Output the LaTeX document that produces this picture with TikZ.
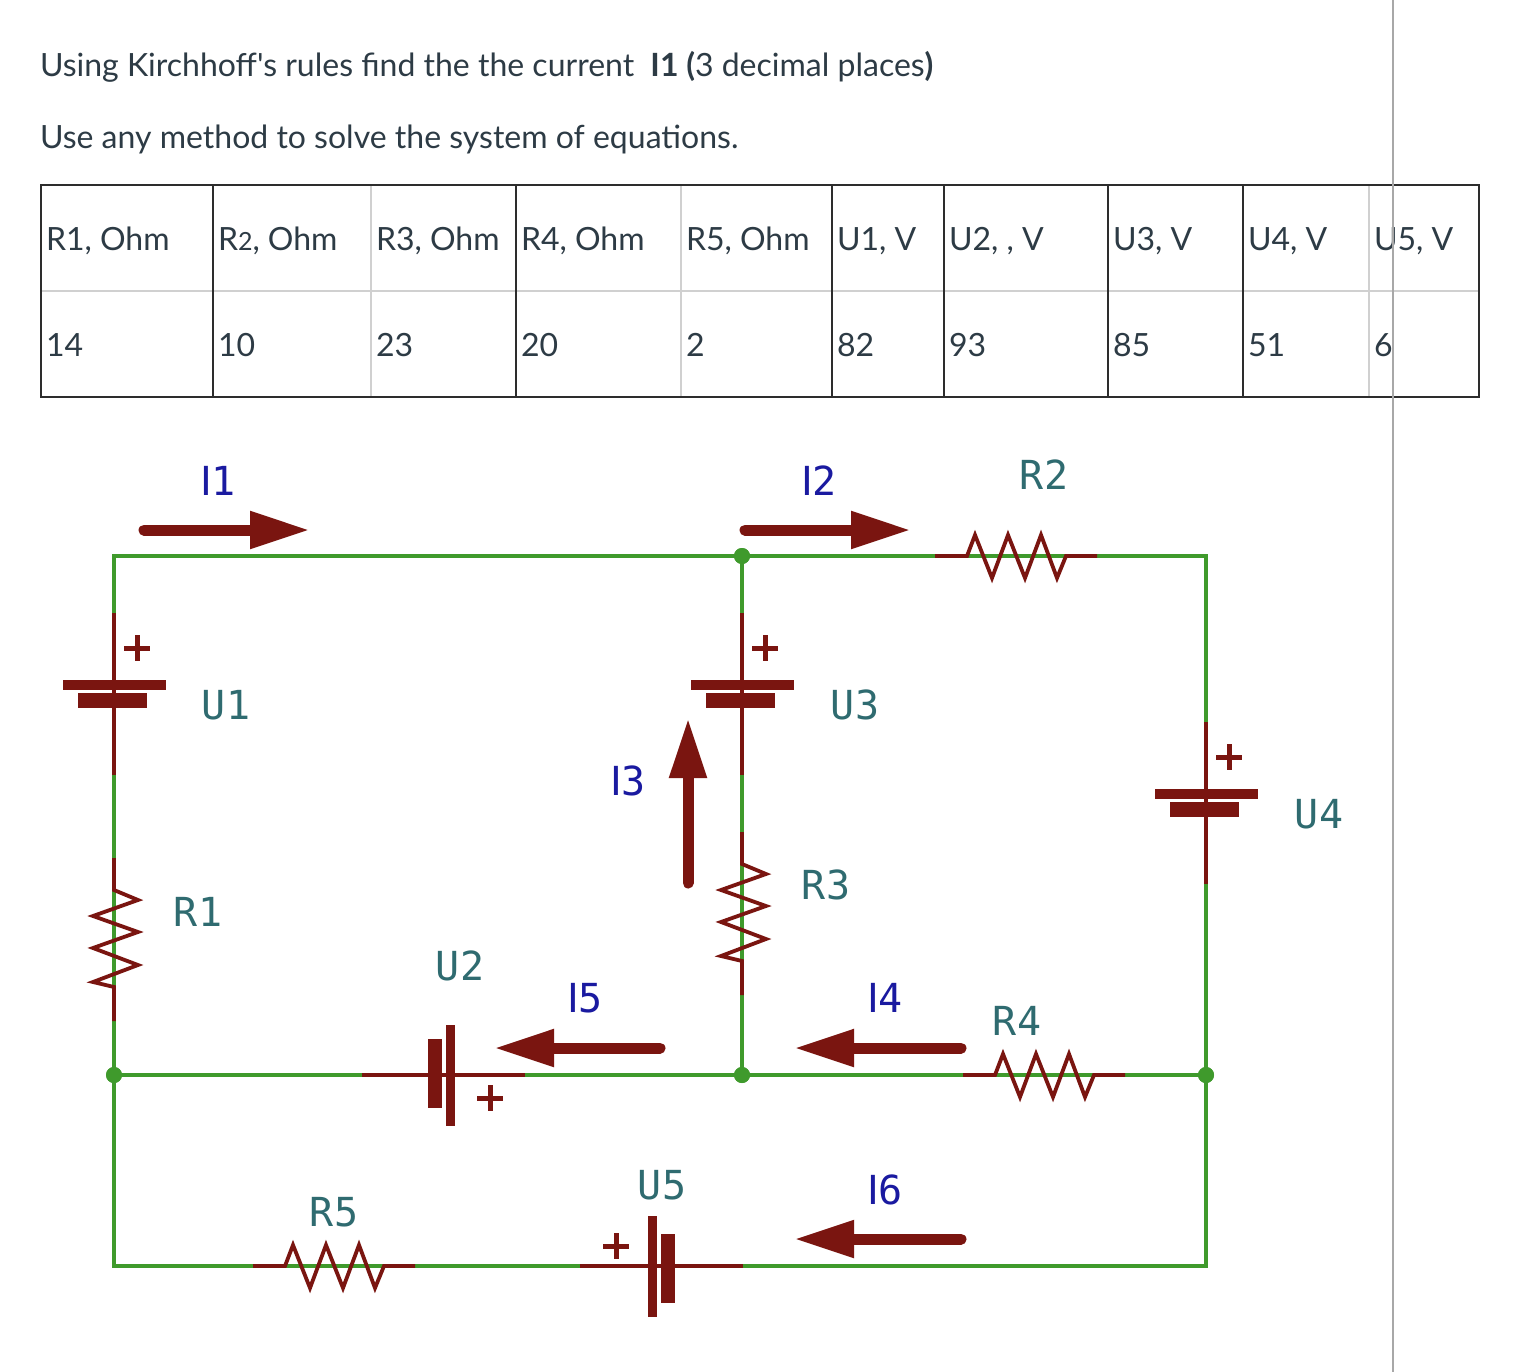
\documentclass[tikz,border=0pt]{standalone}
\usepackage{fontspec}
\setmainfont{Lato}[Ligatures=TeXOff]
\newfontfamily\schemfont{DejaVu Sans Mono}
\newfontfamily\barfont{DejaVu Sans}
\usetikzlibrary{arrows.meta,calc}
\definecolor{wirec}{HTML}{3F9A2C}
\definecolor{partc}{HTML}{7A1510}
\definecolor{tealc}{HTML}{2F6B70}
\definecolor{bluec}{HTML}{1A1AA0}
\definecolor{inkc}{HTML}{2D3B45}
\definecolor{rulec}{HTML}{2D2D2D}
\definecolor{softc}{HTML}{D0D0D0}
\definecolor{guidec}{HTML}{A8A8A8}
\tikzset{
  wire/.style={draw=wirec,line width=3.6pt},
  part/.style={draw=partc,line width=3.8pt,line join=miter},
  plate/.style={fill=partc,draw=none},
  curr/.style={draw=partc,line width=11pt,line cap=round,-{Triangle[length=60pt,width=35pt]}},
  plus/.style={draw=partc,line width=5pt},
  txt/.style={anchor=base west,inner sep=0pt,outer sep=0pt,text=inkc,font=\fontsize{32}{38}\selectfont},
  dot/.style={circle,fill=wirec,draw=none,minimum size=16pt,inner sep=0pt},
  tlabel/.style={text=tealc,font=\schemfont\fontsize{40}{42}\selectfont,inner sep=0pt},
  blabel/.style={text=bluec,font=\schemfont\fontsize{40}{42}\selectfont,inner sep=0pt},
  hard/.style={draw=rulec,line width=2pt},
  soft/.style={draw=softc,line width=2pt},
  pics/vres/.style={code={
    \draw[part] (0,-82)--(0,-50)--(24,-40)--(-21,-24)--(24,-8)--(-21,8)--(24,25)--(-21,42)--(0,47)--(0,81);
  }},
  pics/hres/.style={code={
    \draw[part] (-81,0)--(-49,0)--(-41,-21)--(-24,22)--(-8,-21)--(9,22)--(25,-21)--(41,22)--(50,0)--(81,0);
  }},
  pics/vbat/.style={code={
    \draw[part] (0,-72)--(0,90);
    \fill[plate] (-51,-5) rectangle (52,5);
    \fill[plate] (-36,8) rectangle (33,23);
    \draw[plus] (23,-50)--(23,-24) (10,-37)--(36,-37);
  }},
  pics/hbatr/.style={code={
    \draw[part] (-88,0)--(75,0);
    \fill[plate] (-4,-50) rectangle (5,51);
    \fill[plate] (-22,-36) rectangle (-8,33);
    \draw[plus] (40,10)--(40,36) (27,23)--(53,23);
  }},
  pics/hbatl/.style={code={
    \draw[part] (-72,0)--(91,0);
    \fill[plate] (-4,-50) rectangle (5,51);
    \fill[plate] (9,-32) rectangle (23,37);
    \draw[plus] (-36,-33)--(-36,-7) (-49,-20)--(-23,-20);
  }}
}
\begin{document}
\begin{tikzpicture}[x=1pt,y=-1pt]
\useasboundingbox (0,0) rectangle (1538,1372);
\fill[white] (0,0) rectangle (1538,1372);

% heading
\node[txt] (q1) at (40,77) {Using Kirchhoff's rules find the the current\ \ \textbf{I1 (}3 decimal places\textbf{)}};
\node[txt] (q2) at (40,149) {Use any method to solve the system of equations.};

% table
\draw[soft] (41,291)--(1479,291);
\foreach \x in {371,681,1369} \draw[soft] (\x,185)--(\x,397);
\foreach \x in {213,516,832,944,1108,1243} \draw[hard] (\x,185)--(\x,397);
\draw[hard] (41,185) rectangle (1479,397);
\node[txt] (h1) at (46,251) {R1, Ohm};
\node[txt] (h2) at (218,251) {R{\fontsize{25}{30}\selectfont 2}, Ohm};
\node[txt] (h3) at (376,251) {R3, Ohm};
\node[txt] (h4) at (521,251) {R4, Ohm};
\node[txt] (h5) at (686,251) {R5, Ohm};
\node[txt] (h6) at (837,251) {U1, V};
\node[txt] (h7) at (949,251) {U2, , V};
\node[txt] (h8) at (1113,251) {U3, V};
\node[txt] (h9) at (1248,251) {U4, V};
\node[txt] (h10) at (1374,251) {U5, V};
\node[txt] (v1) at (46,356) {14};
\node[txt] (v2) at (218,356) {10};
\node[txt] (v3) at (376,356) {23};
\node[txt] (v4) at (521,356) {20};
\node[txt] (v5) at (686,356) {2};
\node[txt] (v6) at (837,356) {82};
\node[txt] (v7) at (949,356) {93};
\node[txt] (v8) at (1113,356) {85};
\node[txt] (v9) at (1248,356) {51};
\node[txt] (v10) at (1374,356) {6};
\draw[guidec,line width=2pt] (1393,0)--(1393,1372);

% circuit anchors
\coordinate (tl) at (114,556);
\coordinate (tr) at (1206,556);
\coordinate (bl) at (114,1266);
\coordinate (br) at (1206,1266);
\node[dot] (jt) at (742,556) {};
\node[dot] (jl) at (114,1075) {};
\node[dot] (jm) at (742,1075) {};
\node[dot] (jr) at (1206,1075) {};
\coordinate (cu1) at (114,685);
\coordinate (cu3) at (742,685);
\coordinate (cu4) at (1206,794);
\coordinate (cu2) at (450,1075);
\coordinate (cu5) at (652,1266);
\coordinate (cr1) at (114,940);
\coordinate (cr3) at (742,914);
\coordinate (cr2) at (1016,556);
\coordinate (cr4) at (1044,1075);
\coordinate (cr5) at (334,1266);

% wires
\draw[wire] (jt.center)--(tl)--(jl.center)--(bl)--(br)--(jr.center)--(tr)--(jt.center)--(jm.center);
\draw[wire] (jl.center)--(jr.center);
\node[dot] at (jt) {};\node[dot] at (jl) {};\node[dot] at (jm) {};\node[dot] at (jr) {};

% parts
\pic at (cu1) {vbat};
\pic at (cu3) {vbat};
\pic at (cu4) {vbat};
\pic at (cu2) {hbatr};
\pic at (cu5) {hbatl};
\pic at (cr1) {vres};
\pic at (cr3) {vres};
\pic at (cr2) {hres};
\pic at (cr4) {hres};
\pic at (cr5) {hres};

% current arrows
\coordinate (a1s) at (144,530); \coordinate (a1e) at (310,530);
\coordinate (a2s) at (745,530); \coordinate (a2e) at (911,530);
\coordinate (a3s) at (688,883); \coordinate (a3e) at (688,718);
\coordinate (a5s) at (660,1048); \coordinate (a5e) at (494,1048);
\coordinate (a4s) at (961,1048); \coordinate (a4e) at (794,1048);
\coordinate (a6s) at (961,1239); \coordinate (a6e) at (794,1239);
\draw[curr] (a1s)--(a1e);
\draw[curr] (a2s)--(a2e);
\draw[curr] (a3s)--(a3e);
\draw[curr] (a5s)--(a5e);
\draw[curr] (a4s)--(a4e);
\draw[curr] (a6s)--(a6e);

% labels
\node[blabel] (li1) at (218,481) {{\barfont I}1};
\node[blabel] (li2) at (819,481) {{\barfont I}2};
\node[blabel] (li3) at (628,781) {{\barfont I}3};
\node[blabel] (li5) at (585,998) {{\barfont I}5};
\node[blabel] (li4) at (885,998) {{\barfont I}4};
\node[blabel] (li6) at (885,1190) {{\barfont I}6};
\node[tlabel] (lr2) at (1044,475) {R2};
\node[tlabel] (lu1) at (226,705) {U1};
\node[tlabel] (lu3) at (855,705) {U3};
\node[tlabel] (lr3) at (826,885) {R3};
\node[tlabel] (lr1) at (198,912) {R1};
\node[tlabel] (lu2) at (460,966) {U2};
\node[tlabel] (lr4) at (1017,1021) {R4};
\node[tlabel] (lu4) at (1319,814) {U4};
\node[tlabel] (lu5) at (662,1185) {U5};
\node[tlabel] (lr5) at (334,1212) {R5};
\end{tikzpicture}
\end{document}
